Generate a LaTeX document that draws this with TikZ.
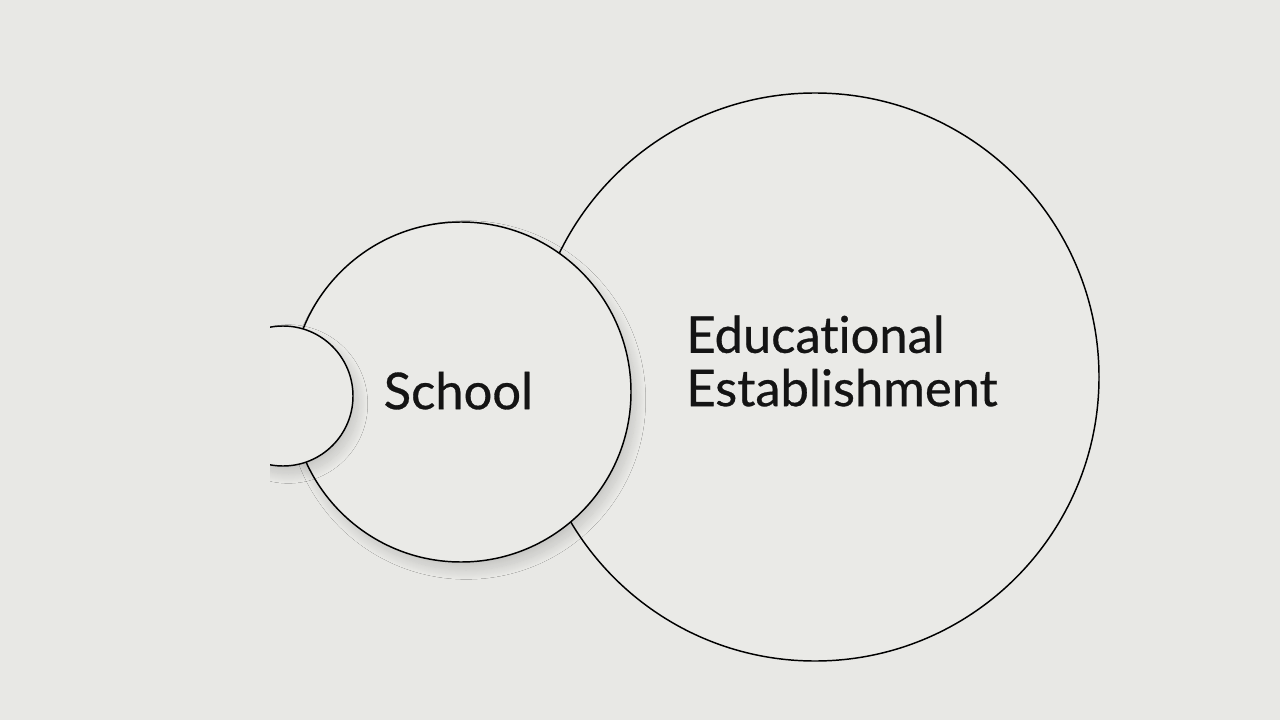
\documentclass[tikz,border=0pt]{standalone}
\usepackage{fontspec}
\setmainfont{Lato}
\newfontfamily\labelfont{Lato}[Ligatures=NoCommon,FakeBold=0.6]
\usepackage{xcolor}
\usepackage{tikz}
\usetikzlibrary{shadows.blur}

\definecolor{paper}{HTML}{E8E8E5}
\definecolor{disc}{HTML}{EAEAE7}

\tikzset{
  ring/.style={circle,draw=black,line width=1.1pt,fill=disc,inner sep=0pt},
  lifted/.style={ring,blur shadow={shadow xshift=4pt,shadow yshift=-6pt,
      shadow blur radius=7pt,shadow blur steps=20,shadow opacity=15}},
  label text/.style={font=\labelfont\fontsize{38}{40}\selectfont,text=black!92,inner sep=0.75pt}
}

\begin{document}
\begin{tikzpicture}[x=0.75pt,y=0.75pt,yscale=-1,xscale=1]
%set diagram to the full 1280 x 720 canvas
\fill[paper] (0,0) rectangle (1280,720);
\useasboundingbox (0,0) rectangle (1280,720);
%Shape: Circle [id:estab]
\node[ring,minimum size=426pt] (estab) at (815,377) {};
%Shape: Circle [id:school]
\node[lifted,minimum size=255pt] (school) at (461,392) {};
%Shape: Circle [id:stub] cut at the left
\begin{scope}
\clip (270,0) rectangle (480,720);
\node[lifted,minimum size=105pt] (stub) at (283,396) {};
\end{scope}
% Text Node
\node[label text] (schooltxt) at (school.center) [xshift=-2pt,yshift=1pt] {School};
% Text Node
\node[label text,align=left] (estabtxt) at (842,361) {Educational\\Establishment};
\end{tikzpicture}
\end{document}
